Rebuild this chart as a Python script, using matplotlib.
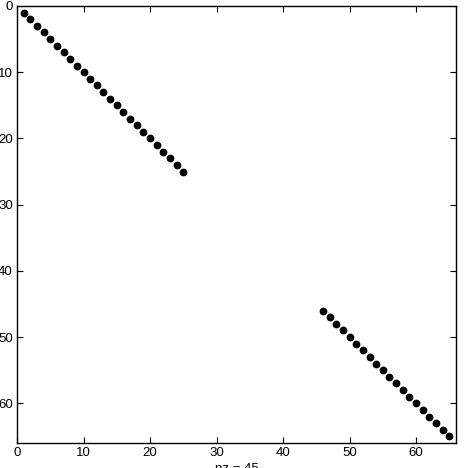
import matplotlib
matplotlib.use("Agg")
import matplotlib.pyplot as plt

plt.rcParams['font.family'] = ['Liberation Sans', 'DejaVu Sans']

# nonzero entries (row, column) of the sparse matrix
rows = [1, 2, 3, 4, 5, 6, 7, 8, 9, 10, 11, 12, 13, 14, 15, 16, 17, 18, 19, 20,
        21, 22, 23, 24, 25,
        46, 47, 48, 49, 50, 51, 52, 53, 54, 55, 56, 57, 58, 59, 60, 61, 62, 63, 64, 65]
cols = [1, 2, 3, 4, 5, 6, 7, 8, 9, 10, 11, 12, 13, 14, 15, 16, 17, 18, 19, 20,
        21, 22, 23, 24, 25,
        46, 47, 48, 49, 50, 51, 52, 53, 54, 55, 56, 57, 58, 59, 60, 61, 62, 63, 64, 65]
xticks = [0, 10, 20, 30, 40, 50, 60]
yticks = [0, 10, 20, 30, 40, 50, 60]
n = 66

fig = plt.figure(figsize=(4.68, 4.68), dpi=100)
ax = fig.add_axes([17/468, 1-443/468, (456-17)/468, (443-6)/468])
ax.plot(cols, rows, linestyle='none', marker='o', markersize=5.6,
        color='black', markeredgewidth=0)
ax.set_xlim(0, n)
ax.set_ylim(n, 0)
ax.set_xticks(xticks)
ax.set_yticks(yticks)
ax.tick_params(direction='in', top=True, right=True, length=4, width=0.8,
               labelsize=9.5, pad=3)
for s in ax.spines.values():
    s.set_linewidth(1.0)
ax.set_xlabel('nz = 45', fontsize=9.5, labelpad=3)
fig.savefig('out.png', dpi=100)
